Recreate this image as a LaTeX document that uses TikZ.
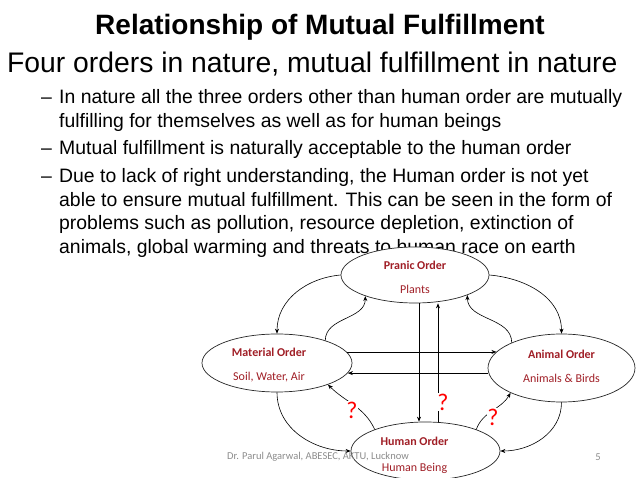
\documentclass[tikz,border=0pt]{standalone}
\usepackage{fontspec}
\setmainfont{Liberation Sans}
\newfontfamily\labelfont{Carlito}
\usetikzlibrary{shapes.geometric,arrows.meta,positioning}
\definecolor{orderred}{RGB}{160,30,38}
\definecolor{footgray}{RGB}{140,140,140}
\begin{document}
\begin{tikzpicture}[x=1pt, y=1pt,
        order/.style={ellipse, draw=black!85, fill=white, line width=0.7pt, inner sep=0pt},
        ordertxt/.style={font=\labelfont\fontsize{12}{14}\selectfont, text=orderred, align=center},
        heading/.style={font=\fontsize{28.3}{34}\selectfont, anchor=base west, inner sep=0pt},
        bullet/.style={font=\fontsize{19.4}{23}\selectfont, anchor=base west, inner sep=0pt},
        qmark/.style={font=\labelfont\fontsize{24}{28}\selectfont, text=red, fill=white, inner sep=0.5pt},
        footer/.style={font=\labelfont\fontsize{10.5}{12}\selectfont, text=footgray},
        arrow/.style={-{Stealth[length=5pt,width=4pt]}, line width=0.6pt}
    ]
        \useasboundingbox (0,0) rectangle (638,-478);

        % Heading
        \node[heading, font=\fontsize{28}{34}\selectfont\bfseries, anchor=base] (title) at (320,-35) {Relationship of Mutual Fulfillment};
        \node[heading] (subtitle) at (7,-73) {Four orders in nature, mutual fulfillment in nature};

        % Bullets
        \node[bullet] (dash1) at (41,-104) {--};
        \node[bullet] (b1a) at (59,-104) {In nature all the three orders other than human order are mutually};
        \node[bullet] (b1b) at (59,-127.5) {fulfilling for themselves as well as for human beings};
        \node[bullet] (dash2) at (41,-155) {--};
        \node[bullet] (b2) at (59,-155) {Mutual fulfillment is naturally acceptable to the human order};
        \node[bullet] (dash3) at (41,-183) {--};
        \node[bullet] (b3a) at (59,-183) {Due to lack of right understanding, the Human order is not yet};
        \node[bullet] (b3b) at (59,-206.5) {able to ensure mutual fulfillment. This can be seen in the form of};
        \node[bullet] (b3c) at (59,-230) {problems such as pollution, resource depletion, extinction of};
        \node[bullet] (b3d) at (59,-253.5) {animals, global warming and threats to human race on earth};

        % Orders
        \node[order, minimum width=148pt, minimum height=56pt] (pranic) at (415,-275) {};
        \node[order, minimum width=150pt, minimum height=58pt] (material) at (277,-363) {};
        \node[order, minimum width=147pt, minimum height=68pt] (animal) at (561.5,-368) {};
        \node[order, minimum width=149pt, minimum height=58pt] (human) at (425.5,-451) {};

        \node[ordertxt] (pranic_lbl) at ([yshift=-2pt]pranic.center) {\textbf{Pranic Order}\\[10pt]Plants};
        \node[ordertxt] (material_lbl) at ([xshift=-8pt, yshift=-2pt]material.center) {\textbf{Material Order}\\[10pt]Soil, Water, Air};
        \node[ordertxt] (animal_lbl) at ([yshift=2pt]animal.center) {\textbf{Animal Order}\\[10pt]Animals \& Birds};
        \node[ordertxt] (human_lbl) at ([xshift=-11pt, yshift=-4pt]human.center) {\textbf{Human Order}\\[12pt]Human Being};

        % Connections
        \draw[arrow] (pranic.west) to[out=185, in=90] (material.north);
        \draw[arrow] (pranic.east) to[out=-5, in=90] (animal.north);
        \draw[arrow] (material.25) to[out=90, in=-90] (pranic.203);
        \draw[arrow] (animal.153) to[out=90, in=-90] (pranic.-21);

        \draw[arrow] (material.9) -- (material.9 -| animal.166);
        \draw[arrow] (animal.184) -- (animal.184 -| material.-8);

        \coordinate (down_top) at ([xshift=4pt]pranic.south);
        \coordinate (up_top) at ([xshift=23pt]pranic.south);
        \draw[arrow] (down_top) -- (down_top |- human.north);
        \draw[arrow] (up_top |- human.north) -- (up_top);

        \draw[arrow] (human.157) to[out=115, in=-45] (material.-23);
        \draw[arrow] (human.23) to[out=70, in=-120] (animal.206);
        \draw[arrow] (material.south) to[out=-90, in=180] (human.west);
        \draw[arrow] (animal.south) to[out=-90, in=0] (human.east);

        % Question marks
        \node[qmark] (q_left) at (352,-410) {?};
        \node[qmark] (q_mid) at (443,-402) {?};
        \node[qmark] (q_right) at (493,-417) {?};

        % Footer
        \node[footer] (foot) at (318,-457) {Dr. Parul Agarwal, ABESEC, AKTU, Lucknow};
        \node[footer] (page) at (598,-457) {5};
    \end{tikzpicture}
\end{document}
